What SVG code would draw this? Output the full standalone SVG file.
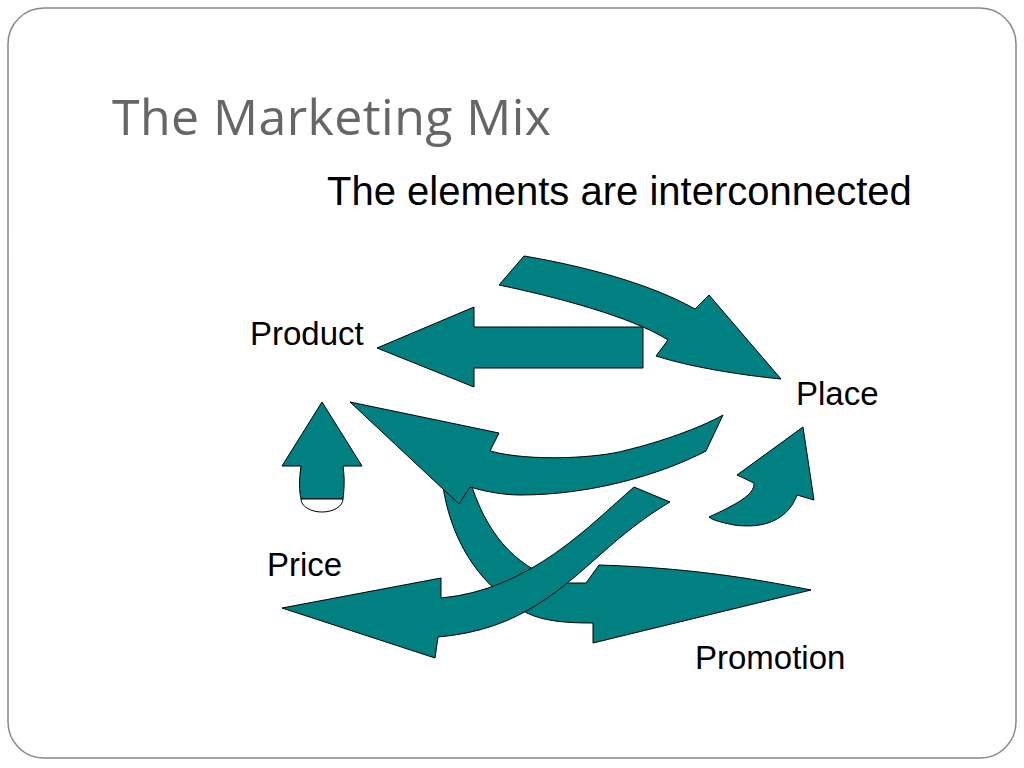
<svg xmlns="http://www.w3.org/2000/svg" width="1024" height="768" viewBox="0 0 1024 768">
<style>
.a{fill:#008080;stroke:#000;stroke-width:1;stroke-linejoin:round}
.l{font-family:"Liberation Sans",Arial,sans-serif;font-size:33px;fill:#000}
</style>
<rect width="1024" height="768" fill="#fff"/>
<rect x="8" y="8" width="1008" height="750" rx="36" fill="none" stroke="#888" stroke-width="1.5"/>
<text x="112" y="135" font-family="'Open Sans',sans-serif" font-size="50" fill="#666" textLength="439">The Marketing Mix</text>
<text x="327" y="205" font-family="'Liberation Sans',Arial,sans-serif" font-size="40" fill="#000">The elements are interconnected</text>
<g id="arrows">
<path id="a1" class="a" d="M524,256 C560,262 640,278 695,309 L709,295 L781,379 C760,377 700,370 656,356 L668,340 C640,322 580,302 499,285 Z"/>
<path id="a2" class="a" d="M643,327 L474,327 L474,307 L377,348 L474,387 L474,368 L643,368 Z"/>
<path id="a5" class="a" d="M443,487 C450,530 470,580 527,613 C545,622 570,623 593,623 L593,643 L811,590 C770,582 700,568 599,565 L586,583 L566,583 C520,570 490,540 472,487 Z"/>
<path id="a3" class="a" d="M350,402 L499,433 L490,451 C530,462 600,458 627,450 C660,442 700,428 723,415 L706,451 C660,475 590,495 520,495 C500,495 480,490 470,487 L459,504 Z"/>
<path id="a4" class="a" d="M322,402 L362,466 L343,466 C345,480 344,490 343,499 L301,499 C299,490 299,480 301,466 L282,466 Z"/>
<path d="M301,499 A21,13 0 0 0 343,499 Z" fill="#fff" stroke="#000" stroke-width="1"/>
<path id="a6" class="a" d="M634,487 C590,525 530,590 441,598 L441,578 L282,608 L435,658 L438,637 C520,630 560,590 609,547 C640,520 660,508 670,502 Z"/>
<path id="a7" class="a" d="M803,427 L814,500 L797,495 C790,515 770,530 734,525 C720,522 712,520 709,517 C735,505 755,495 754,483 L737,475 Z"/>
</g>
<g id="labels">
<text class="l" x="250" y="345">Product</text>
<text class="l" x="796" y="405">Place</text>
<text class="l" x="267" y="576">Price</text>
<text class="l" x="695" y="669">Promotion</text>
</g>
</svg>
